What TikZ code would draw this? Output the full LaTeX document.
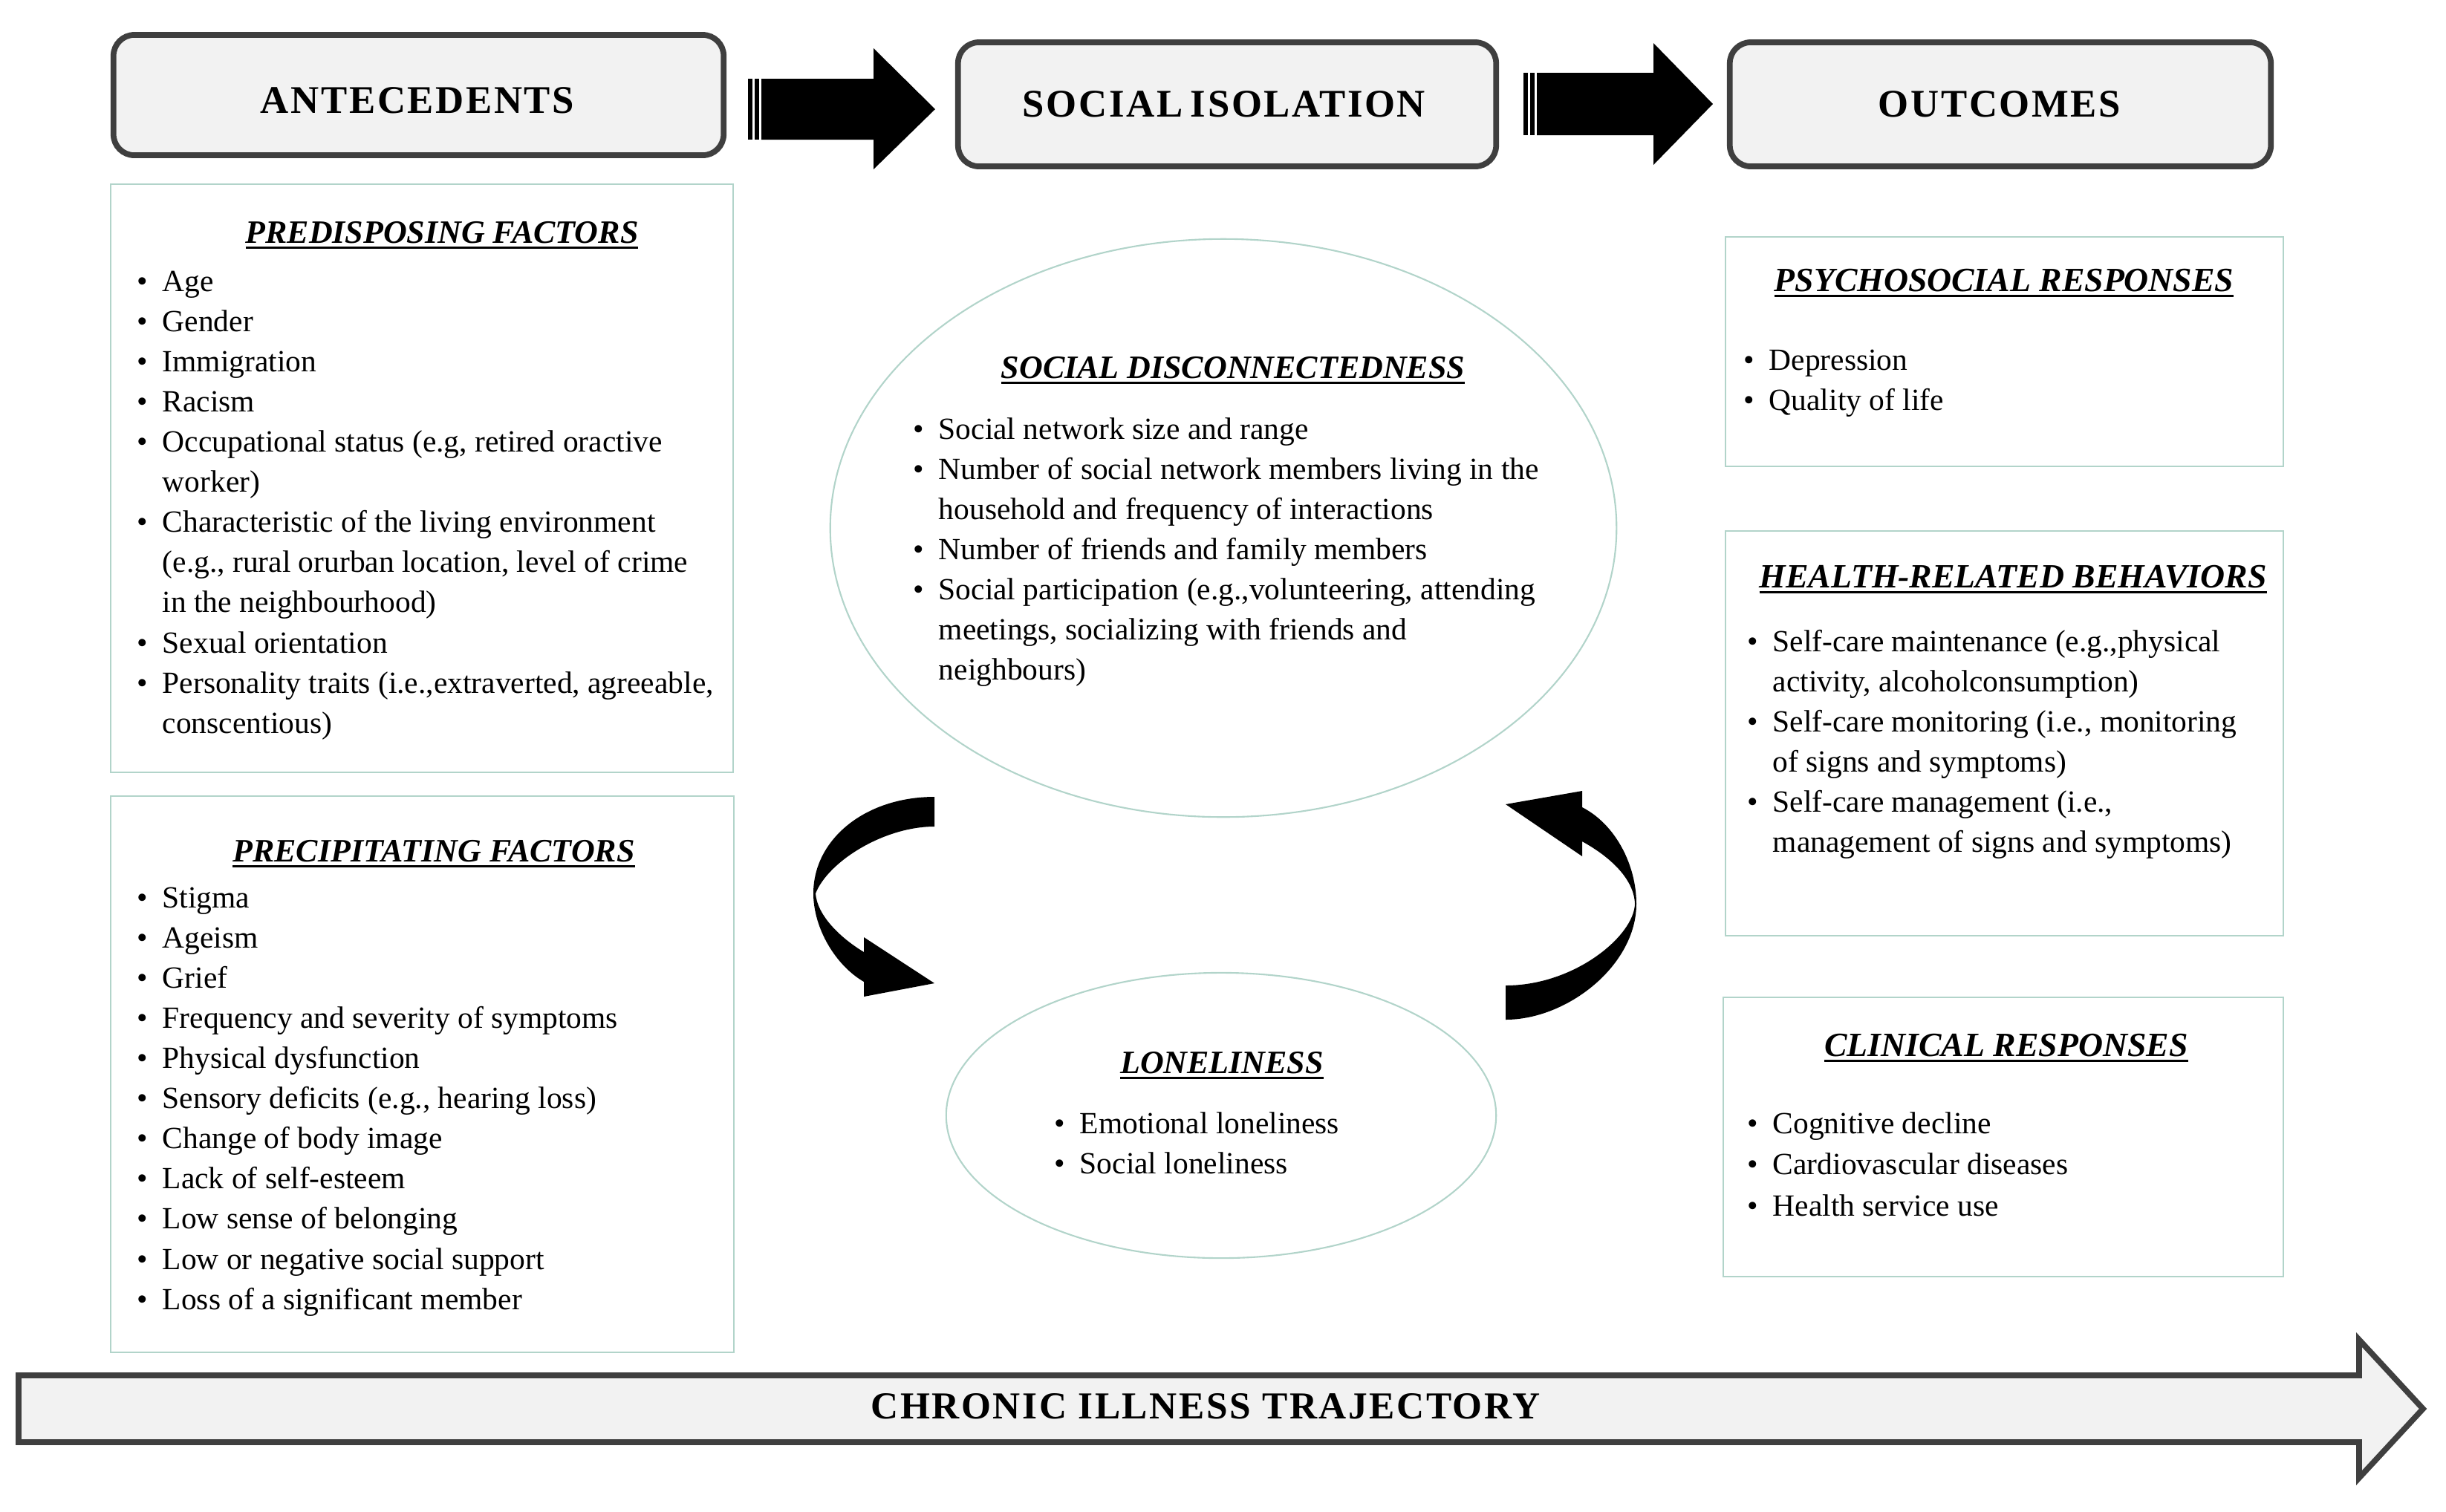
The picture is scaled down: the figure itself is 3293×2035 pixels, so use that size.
\documentclass[tikz,border=0pt]{standalone}
\usepackage{fontspec}
\setmainfont{Liberation Serif}
\newfontfamily\hdfont[LetterSpace=5]{Liberation Serif}
\usetikzlibrary{shapes.geometric}
\definecolor{hdfill}{HTML}{F2F2F2}
\definecolor{hdline}{HTML}{3F3F3F}
\definecolor{boxline}{RGB}{178,212,202}
\newcommand{\bul}{\makebox[9.7pt][l]{\textbullet}}
\newcommand{\ttl}[1]{\setbox0\hbox{#1}\rlap{\rule[-2.4pt]{\wd0}{0.9pt}}\box0}
\newcommand{\blist}[1]{\begin{tabular}[t]{@{}l@{}l@{}}#1\end{tabular}}
\tikzset{
  hdbox/.style={draw=hdline, fill=hdfill, line width=2.2pt, rounded corners=8pt, inner sep=0pt},
  cbox/.style={draw=boxline, line width=0.7pt, inner sep=0pt},
  ellbox/.style={draw=boxline, line width=0.6pt, ellipse, inner sep=0pt},
  hdtext/.style={font=\hdfont\bfseries\fontsize{15}{18}\selectfont, anchor=base, inner sep=0pt},
  ttext/.style={font=\fontsize{12.5}{15}\selectfont\bfseries\itshape, anchor=base, inner sep=0pt},
  rttext/.style={ttext, font=\fontsize{13}{15}\selectfont\bfseries\itshape},
  ltext/.style={font=\fontsize{11.8}{15.39}\selectfont, anchor=base west, inner sep=0pt},
  blk/.style={fill=black},
  trackarrow/.style={draw=hdline, fill=hdfill, line width=2.2pt, line join=miter}
}
\begin{document}
\begin{tikzpicture}[x=0.01cm, y=-0.01cm]
\useasboundingbox (0,0) rectangle (3293,2035);

% header boxes
\node[hdbox, minimum width=8.21cm, minimum height=1.62cm] (ante) at (563.5,128) {};
\node[hdbox, minimum width=7.24cm, minimum height=1.67cm] (iso) at (1652,140.5) {};
\node[hdbox, minimum width=7.28cm, minimum height=1.67cm] (outc) at (2693,140.5) {};
\node[hdtext] (anteT) at (562,152) {ANTECEDENTS};
\node[hdtext] (isoT) at (1648,157) {SOCIAL\hspace{-1.5pt} ISOLATION};
\node[hdtext] (outcT) at (2692,157) {OUTCOMES};

% block arrows between headers
\fill[blk] (1007,106) rectangle (1013,188);
\fill[blk] (1016,106) rectangle (1022,188);
\fill[blk] (1025,106) -- (1176,106) -- (1176,65) -- (1259,147) -- (1176,228) -- (1176,188) -- (1025,188) -- cycle;
\fill[blk] (2051,98) rectangle (2057,182);
\fill[blk] (2060,98) rectangle (2066,182);
\fill[blk] (2069,98) -- (2226,98) -- (2226,58) -- (2306,140) -- (2226,222) -- (2226,182) -- (2069,182) -- cycle;

% antecedent boxes
\node[cbox, minimum width=8.38cm, minimum height=7.92cm] (pre) at (568,644) {};
\node[ttext] (preT) at (595,327) {\ttl{PREDISPOSING FACTORS}};
\node[ltext] (preL) at (184,392) {\blist{%
\bul & Age\\
\bul & Gender\\
\bul & Immigration\\
\bul & Racism\\
\bul & Occupational status (e.g, retired oractive\\
 & worker)\\
\bul & Characteristic of the living environment\\
 & (e.g., rural orurban location, level of crime\\
 & in the neighbourhood)\\
\bul & Sexual orientation\\
\bul & Personality traits (i.e.,extraverted, agreeable,\\
 & conscentious)}};

\node[cbox, minimum width=8.39cm, minimum height=7.49cm] (prec) at (568.5,1446.5) {};
\node[ttext] (precT) at (584,1160) {\ttl{PRECIPITATING FACTORS}};
\node[ltext] (precL) at (184,1222) {\blist{%
\bul & Stigma\\
\bul & Ageism\\
\bul & Grief\\
\bul & Frequency and severity of symptoms\\
\bul & Physical dysfunction\\
\bul & Sensory deficits (e.g., hearing loss)\\
\bul & Change of body image\\
\bul & Lack of self-esteem\\
\bul & Low sense of belonging\\
\bul & Low or negative social support\\
\bul & Loss of a significant member}};

% social isolation ellipses
\node[ellbox, minimum width=10.58cm, minimum height=7.78cm] (dis) at (1647,711) {};
\node[ttext] (disT) at (1660,509) {\ttl{SOCIAL DISCONNECTEDNESS}};
\node[ltext] (disL) at (1229,591) {\blist{%
\bul & Social network size and range\\
\bul & Number of social network members living in the\\
 & household and frequency of interactions\\
\bul & Number of friends and family members\\
\bul & Social participation (e.g.,volunteering, attending\\
 & meetings, socializing with friends and\\
 & neighbours)}};

\node[ellbox, minimum width=7.40cm, minimum height=3.84cm] (lon) at (1644,1502) {};
\node[ttext] (lonT) at (1645,1445) {\ttl{LONELINESS}};
\node[ltext] (lonL) at (1419,1526) {\blist{%
\bul & Emotional loneliness\\
\bul & Social loneliness}};

% curved arrows
\fill[blk] (1258,1073) .. controls (1165,1073) and (1095,1130) .. (1095,1203)
  .. controls (1095,1250) and (1125,1300) .. (1163,1322)
  -- (1163,1342) -- (1258,1324) -- (1163,1262) -- (1163,1282)
  .. controls (1130,1262) and (1100,1232) .. (1098,1203)
  .. controls (1115,1160) and (1190,1113) .. (1258,1113) -- cycle;
\fill[blk] (2027,1373) .. controls (2110,1373) and (2203,1300) .. (2203,1217)
  .. controls (2203,1165) and (2175,1110) .. (2130,1087)
  -- (2130,1065) -- (2027,1083) -- (2130,1153) -- (2130,1133)
  .. controls (2170,1155) and (2200,1185) .. (2201,1217)
  .. controls (2200,1260) and (2120,1327) .. (2027,1327) -- cycle;

% outcome boxes
\node[cbox, minimum width=7.51cm, minimum height=3.09cm] (psy) at (2698.5,473.5) {};
\node[rttext] (psyT) at (2698,392) {\ttl{PSYCHOSOCIAL RESPONSES}};
\node[ltext] (psyL) at (2347,498) {\blist{%
\bul & Depression\\
\bul & Quality of life}};

\node[cbox, minimum width=7.51cm, minimum height=5.45cm] (hea) at (2698.5,987.5) {};
\node[rttext] (heaT) at (2710,791) {\ttl{HEALTH-RELATED BEHAVIORS}};
\node[ltext] (heaL) at (2352,877) {\blist{%
\bul & Self-care maintenance (e.g.,physical\\
 & activity, alcoholconsumption)\\
\bul & Self-care monitoring (i.e., monitoring\\
 & of signs and symptoms)\\
\bul & Self-care management (i.e.,\\
 & management of signs and symptoms)}};

\node[cbox, minimum width=7.54cm, minimum height=3.76cm] (cli) at (2697,1531) {};
\node[rttext] (cliT) at (2701,1422) {\ttl{CLINICAL RESPONSES}};
\node[ltext] (cliL) at (2352,1526) {\blist{%
\bul & Cognitive decline\\[0.5pt]
\bul & Cardiovascular diseases\\[0.5pt]
\bul & Health service use}};

% chronic illness trajectory
\draw[trackarrow] (25,1852) -- (3176,1852) -- (3176,1804) -- (3262,1897) -- (3176,1990) -- (3176,1942) -- (25,1942) -- cycle;
\node[hdtext, font=\hdfont\bfseries\fontsize{14.6}{18}\selectfont] (chron) at (1623,1910) {CHRONIC ILLNESS TRAJECTORY};
\end{tikzpicture}
\end{document}
